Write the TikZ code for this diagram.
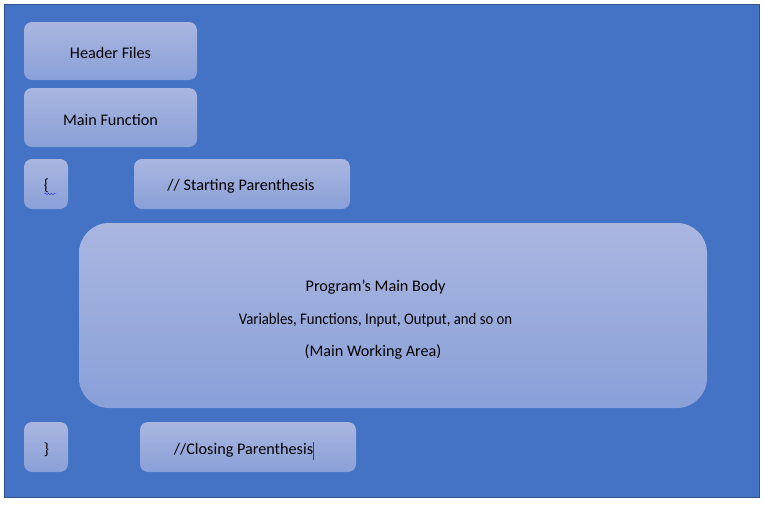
\documentclass[tikz,border=0pt]{standalone}
\usepackage{fontspec}
\setmainfont{Carlito}
\usepackage{tikz}
\usetikzlibrary{decorations.pathmorphing}
\definecolor{pageblue}{RGB}{68,114,196}
\definecolor{edgeblue}{RGB}{47,82,143}
\definecolor{boxtop}{RGB}{170,182,224}
\definecolor{boxbottom}{RGB}{137,160,216}
\tikzstyle{block}=[rectangle,rounded corners=8pt,top color=boxtop,bottom color=boxbottom,draw=none,inner sep=0pt]
\tikzstyle{label}=[inner sep=0pt,align=center,font=\fontsize{16.2}{20}\selectfont]
\tikzstyle{bodylabel}=[inner sep=0pt,anchor=base,font=\fontsize{16.2}{20}\selectfont]

\begin{document}
\begin{tikzpicture}[x=1pt,y=-1pt]
        \useasboundingbox (0,0) rectangle (764,504);
        \fill [white] (0,0) rectangle (764,504);
        \draw [fill=pageblue,draw=edgeblue] (4,4) rectangle (759,497);

        \node at (110.5,51)  [block,minimum width=173pt,minimum height=58pt] (header) {};
        \node at (110.5,117.5) [block,minimum width=173pt,minimum height=59pt] (main) {};
        \node at (46,184)    [block,minimum width=44pt,minimum height=50pt]  (open) {};
        \node at (242,184)   [block,minimum width=216pt,minimum height=50pt] (start) {};
        \node at (393,315.5) [block,rounded corners=30pt,minimum width=628pt,minimum height=185pt] (body) {};
        \node at (46,447)    [block,minimum width=44pt,minimum height=50pt]  (close) {};
        \node at (248,447)   [block,minimum width=216pt,minimum height=50pt] (end) {};

        \node at (110.5,53) [label] (headertext) {Header Files};
        \node at (110.5,119.5) [label] (maintext) {Main Function};
        \node at (46.5,186) [label] (opentext) {\{};
        \node at (241,186) [label] (starttext) {// Starting Parenthesis};
        \node at (375.5,291) [bodylabel] (bodytitle) {Program’s Main Body};
        \node at (375.5,324) [bodylabel,xscale=0.91,transform shape] (bodylist) {Variables, Functions, Input, Output, and so on};
        \node at (373,356) [bodylabel] (bodynote) {(Main Working Area)};
        \node at (46.5,450) [label] (closetext) {\}};
        \node at (243.5,450) [label] (endtext) {//Closing Parenthesis};

        % spelling mark and cursor
        \draw [blue!80,thin,decorate,decoration={snake,amplitude=0.8pt,segment length=3pt}]
          ([xshift=-2pt,yshift=-8pt]opentext.center) -- ([xshift=10pt,yshift=-8pt]opentext.center);
        \draw [black!40!orange!70!black,thin] ([yshift=-10pt]endtext.east) -- ([yshift=8pt]endtext.east);
      \end{tikzpicture}
\end{document}
